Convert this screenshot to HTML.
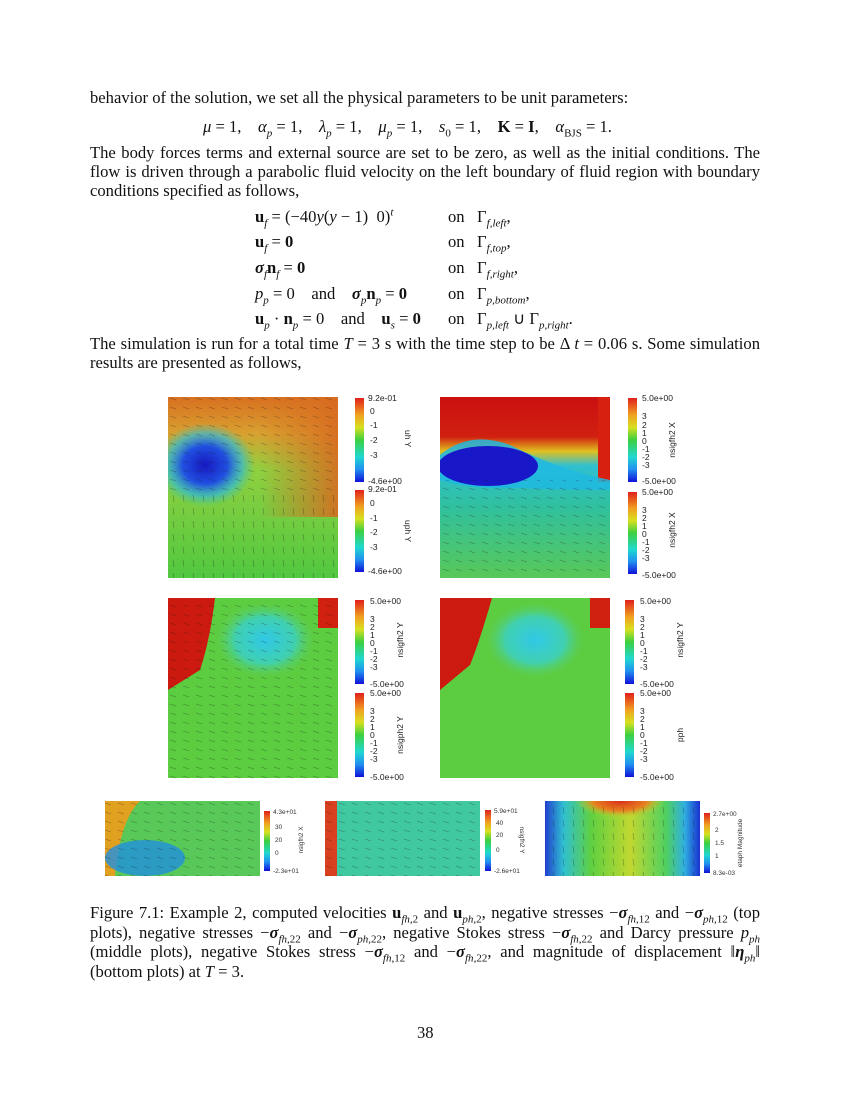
<!DOCTYPE html>
<html><head><meta charset="utf-8">
<style>
body{margin:0;background:#fff;}
.pg{position:relative;width:850px;height:1100px;font-family:"Liberation Serif",serif;font-size:16.6px;color:#111;}
.t{position:absolute;left:90px;width:670px;line-height:19px;text-align:justify;}
.c{line-height:19.5px;}
.l{position:absolute;white-space:nowrap;}
i{font-style:italic}
b{font-weight:bold}
sub,sup{font-size:11px;line-height:0}
svg text{font-family:"Liberation Sans",sans-serif;}
</style></head><body><div class="pg">
<div class="l" style="left:90px;top:88px">behavior of the solution, we set all the physical parameters to be unit parameters:</div>
<div class="l" style="left:203px;top:117px"><i>μ</i> = 1, &nbsp;&nbsp; <i>α<sub>p</sub></i> = 1, &nbsp;&nbsp; <i>λ<sub>p</sub></i> = 1, &nbsp;&nbsp; <i>μ<sub>p</sub></i> = 1, &nbsp;&nbsp; <i>s</i><sub>0</sub> = 1, &nbsp;&nbsp; <b>K</b> = <b>I</b>, &nbsp;&nbsp; <i>α</i><sub>BJS</sub> = 1.</div>
<div class="t" style="top:143px">The body forces terms and external source are set to be zero, as well as the initial conditions. The flow is driven through a parabolic fluid velocity on the left boundary of fluid region with boundary conditions specified as follows,</div>
<div class="l" style="left:255px;top:207px"><b>u</b><sub><i>f</i></sub> = (−40<i>y</i>(<i>y</i> − 1) &nbsp;0)<sup><i>t</i></sup></div>
<div class="l" style="left:255px;top:232px"><b>u</b><sub><i>f</i></sub> = <b>0</b></div>
<div class="l" style="left:255px;top:258px"><b><i>σ</i></b><sub><i>f</i></sub><b>n</b><sub><i>f</i></sub> = <b>0</b></div>
<div class="l" style="left:255px;top:284px"><i>p<sub>p</sub></i> = 0 &nbsp;&nbsp; and &nbsp;&nbsp; <b><i>σ</i></b><sub><i>p</i></sub><b>n</b><sub><i>p</i></sub> = <b>0</b></div>
<div class="l" style="left:255px;top:309px"><b>u</b><sub><i>p</i></sub> · <b>n</b><sub><i>p</i></sub> = 0 &nbsp;&nbsp; and &nbsp;&nbsp; <b>u</b><sub><i>s</i></sub> = <b>0</b></div>
<div class="l" style="left:448px;top:207px">on &nbsp;&nbsp;Γ<sub><i>f,left</i></sub>,</div>
<div class="l" style="left:448px;top:232px">on &nbsp;&nbsp;Γ<sub><i>f,top</i></sub>,</div>
<div class="l" style="left:448px;top:258px">on &nbsp;&nbsp;Γ<sub><i>f,right</i></sub>,</div>
<div class="l" style="left:448px;top:284px">on &nbsp;&nbsp;Γ<sub><i>p,bottom</i></sub>,</div>
<div class="l" style="left:448px;top:309px">on &nbsp;&nbsp;Γ<sub><i>p,left</i></sub> ∪ Γ<sub><i>p,right</i></sub>.</div>
<div class="t" style="top:334px">The simulation is run for a total time <i>T</i> = 3 s with the time step to be Δ <i>t</i> = 0.06 s. Some simulation results are presented as follows,</div>

<svg style="position:absolute;left:0;top:0" width="850" height="1100">
<defs>
<linearGradient id="cb" x1="0" y1="0" x2="0" y2="1">
<stop offset="0" stop-color="#e0201c"/><stop offset="0.2" stop-color="#f0a020"/><stop offset="0.35" stop-color="#d8e020"/><stop offset="0.5" stop-color="#3cd040"/><stop offset="0.7" stop-color="#20d8d0"/><stop offset="0.85" stop-color="#2090f0"/><stop offset="1" stop-color="#1010d8"/></linearGradient>
<radialGradient id="blue1"><stop offset="0" stop-color="#1818c0"/><stop offset="0.45" stop-color="#2050e0"/><stop offset="0.75" stop-color="#30b8d8" stop-opacity="0.7"/><stop offset="1" stop-color="#40c8a0" stop-opacity="0"/></radialGradient>
<radialGradient id="cyan1"><stop offset="0" stop-color="#30c8e8"/><stop offset="0.6" stop-color="#40d0b0"/><stop offset="1" stop-color="#60d060" stop-opacity="0"/></radialGradient>
<radialGradient id="red1"><stop offset="0" stop-color="#d82818"/><stop offset="0.6" stop-color="#e88020"/><stop offset="1" stop-color="#c0d830" stop-opacity="0"/></radialGradient>
<linearGradient id="tl" x1="0" y1="0" x2="0" y2="1"><stop offset="0" stop-color="#d87020"/><stop offset="0.2" stop-color="#d8a030"/><stop offset="0.4" stop-color="#90d040"/><stop offset="1" stop-color="#50c840"/></linearGradient>
<linearGradient id="tlr" x1="0" y1="0" x2="1" y2="0"><stop offset="0" stop-color="#d87020" stop-opacity="0"/><stop offset="1" stop-color="#d86a20" stop-opacity="0.9"/></linearGradient>
<linearGradient id="tr" x1="0" y1="0" x2="0" y2="1"><stop offset="0" stop-color="#cc1010"/><stop offset="0.22" stop-color="#d02010"/><stop offset="0.3" stop-color="#e0c020"/><stop offset="0.38" stop-color="#30c0d0"/><stop offset="0.6" stop-color="#30c0a0"/><stop offset="1" stop-color="#58c858"/></linearGradient>
<linearGradient id="b3" x1="0" y1="0" x2="1" y2="0"><stop offset="0" stop-color="#2040d0"/><stop offset="0.12" stop-color="#30c0d0"/><stop offset="0.3" stop-color="#60d040"/><stop offset="0.55" stop-color="#c0d830"/><stop offset="0.78" stop-color="#50d060"/><stop offset="0.9" stop-color="#30b0e0"/><stop offset="1" stop-color="#1830d0"/></linearGradient>
<pattern id="arr" width="13" height="9" patternUnits="userSpaceOnUse"><line x1="1" y1="2" x2="7" y2="4" stroke="#111" stroke-width="0.6" opacity="0.4"/></pattern>
<pattern id="arrv" width="10" height="13" patternUnits="userSpaceOnUse"><line x1="3" y1="1" x2="4" y2="8" stroke="#111" stroke-width="0.6" opacity="0.4"/></pattern>
<clipPath id="c1"><rect x="168" y="397" width="170" height="181"/></clipPath>
<clipPath id="c2"><rect x="440" y="397" width="170" height="181"/></clipPath>
<clipPath id="c3"><rect x="168" y="598" width="170" height="180"/></clipPath>
<clipPath id="c4"><rect x="440" y="598" width="170" height="180"/></clipPath>
<clipPath id="c5"><rect x="105" y="801" width="155" height="75"/></clipPath>
<clipPath id="c6"><rect x="325" y="801" width="155" height="75"/></clipPath>
<clipPath id="c7"><rect x="545" y="801" width="155" height="75"/></clipPath>
</defs>
<g clip-path="url(#c1)">
<rect x="168" y="397" width="170" height="181" fill="url(#tl)"/>
<rect x="260" y="397" width="78" height="120" fill="url(#tlr)"/>
<ellipse cx="205" cy="465" rx="50" ry="42" fill="url(#blue1)"/>
<rect x="168" y="397" width="170" height="100" fill="url(#arr)"/>
<rect x="168" y="490" width="170" height="88" fill="url(#arrv)"/>
</g>
<g clip-path="url(#c2)">
<rect x="440" y="397" width="170" height="181" fill="url(#tr)"/>
<rect x="598" y="397" width="12" height="85" fill="#d82010"/>
<path d="M440 455 Q470 430 510 445 Q560 470 610 480 L610 490 Q560 490 520 488 Q470 490 440 480Z" fill="#20b8e0" opacity="0.85"/>
<ellipse cx="488" cy="466" rx="50" ry="20" fill="#1818c8"/>
<rect x="440" y="480" width="170" height="98" fill="url(#arr)"/>
</g>
<g clip-path="url(#c3)">
<rect x="168" y="598" width="170" height="180" fill="#5ccc40"/>
<path d="M168 598 L215 598 Q210 640 200 670 L168 690Z" fill="#cc1a10"/>
<ellipse cx="265" cy="640" rx="50" ry="38" fill="url(#cyan1)"/>
<rect x="318" y="598" width="20" height="30" fill="#d02010"/>
<rect x="168" y="598" width="170" height="180" fill="url(#arr)"/>
</g>
<g clip-path="url(#c4)">
<rect x="440" y="598" width="170" height="180" fill="#5ccc40"/>
<path d="M440 598 L492 598 Q480 640 470 665 L440 690Z" fill="#cc1a10"/>
<ellipse cx="535" cy="640" rx="50" ry="38" fill="url(#cyan1)"/>
<rect x="590" y="598" width="20" height="30" fill="#d02010"/>
</g>
<g clip-path="url(#c5)">
<rect x="105" y="801" width="155" height="75" fill="#58c858"/>
<path d="M105 801 L140 801 Q120 820 115 876 L105 876Z" fill="#e0a020"/>
<ellipse cx="145" cy="858" rx="40" ry="18" fill="#2090e0" opacity="0.8"/>
<rect x="105" y="801" width="155" height="75" fill="url(#arr)"/>
</g>
<g clip-path="url(#c6)">
<rect x="325" y="801" width="155" height="75" fill="#40c8a0"/>
<rect x="325" y="801" width="12" height="75" fill="#d84020"/>
<rect x="325" y="801" width="155" height="75" fill="url(#arr)"/>
</g>
<g clip-path="url(#c7)">
<rect x="545" y="801" width="155" height="75" fill="url(#b3)"/>
<ellipse cx="620" cy="800" rx="45" ry="18" fill="url(#red1)"/>
<rect x="545" y="801" width="155" height="75" fill="url(#arrv)"/>
</g>
<g font-size="8.5" fill="#222">
<rect x="355" y="398" width="9" height="84" fill="url(#cb)"/>
<text x="368" y="401">9.2e-01</text><text x="370" y="414">0</text><text x="370" y="428">-1</text><text x="370" y="443">-2</text><text x="370" y="458">-3</text><text x="368" y="484">-4.6e+00</text>
<text transform="translate(405,430) rotate(90)">uh Y</text>
<rect x="355" y="490" width="9" height="82" fill="url(#cb)"/>
<text x="368" y="492">9.2e-01</text><text x="370" y="506">0</text><text x="370" y="521">-1</text><text x="370" y="535">-2</text><text x="370" y="550">-3</text><text x="368" y="574">-4.6e+00</text>
<text transform="translate(405,520) rotate(90)">uph Y</text>
<rect x="628" y="398" width="9" height="84" fill="url(#cb)"/>
<text x="642" y="401">5.0e+00</text><text x="642" y="419">3</text><text x="642" y="428">2</text><text x="642" y="436">1</text><text x="642" y="444">0</text><text x="642" y="452">-1</text><text x="642" y="460">-2</text><text x="642" y="468">-3</text><text x="642" y="484">-5.0e+00</text>
<text transform="translate(675,440) rotate(-90)" text-anchor="middle">nsigfh2 X</text>
<rect x="628" y="492" width="9" height="82" fill="url(#cb)"/>
<text x="642" y="495">5.0e+00</text><text x="642" y="513">3</text><text x="642" y="521">2</text><text x="642" y="529">1</text><text x="642" y="537">0</text><text x="642" y="545">-1</text><text x="642" y="553">-2</text><text x="642" y="561">-3</text><text x="642" y="578">-5.0e+00</text>
<text transform="translate(675,530) rotate(-90)" text-anchor="middle">nsigfh2 X</text>
<rect x="355" y="600" width="9" height="84" fill="url(#cb)"/>
<text x="370" y="604">5.0e+00</text><text x="370" y="622">3</text><text x="370" y="630">2</text><text x="370" y="638">1</text><text x="370" y="646">0</text><text x="370" y="654">-1</text><text x="370" y="662">-2</text><text x="370" y="670">-3</text><text x="370" y="687">-5.0e+00</text>
<text transform="translate(403,640) rotate(-90)" text-anchor="middle">nsigfh2 Y</text>
<rect x="355" y="693" width="9" height="84" fill="url(#cb)"/>
<text x="370" y="696">5.0e+00</text><text x="370" y="714">3</text><text x="370" y="722">2</text><text x="370" y="730">1</text><text x="370" y="738">0</text><text x="370" y="746">-1</text><text x="370" y="754">-2</text><text x="370" y="762">-3</text><text x="370" y="780">-5.0e+00</text>
<text transform="translate(403,735) rotate(-90)" text-anchor="middle">nsigph2 Y</text>
<rect x="625" y="600" width="9" height="84" fill="url(#cb)"/>
<text x="640" y="604">5.0e+00</text><text x="640" y="622">3</text><text x="640" y="630">2</text><text x="640" y="638">1</text><text x="640" y="646">0</text><text x="640" y="654">-1</text><text x="640" y="662">-2</text><text x="640" y="670">-3</text><text x="640" y="687">-5.0e+00</text>
<text transform="translate(683,640) rotate(-90)" text-anchor="middle">nsigfh2 Y</text>
<rect x="625" y="693" width="9" height="84" fill="url(#cb)"/>
<text x="640" y="696">5.0e+00</text><text x="640" y="714">3</text><text x="640" y="722">2</text><text x="640" y="730">1</text><text x="640" y="738">0</text><text x="640" y="746">-1</text><text x="640" y="754">-2</text><text x="640" y="762">-3</text><text x="640" y="780">-5.0e+00</text>
<text transform="translate(683,735) rotate(-90)" text-anchor="middle">pph</text>
</g>
<g font-size="6.5" fill="#333">
<rect x="264" y="811" width="6" height="60" fill="url(#cb)"/>
<text x="273" y="814">4.3e+01</text><text x="275" y="829">30</text><text x="275" y="842">20</text><text x="275" y="855">0</text><text x="273" y="873">-2.3e+01</text>
<text transform="translate(303,840) rotate(-90)" text-anchor="middle">nsigfh2 X</text>
<rect x="485" y="810" width="6" height="61" fill="url(#cb)"/>
<text x="494" y="813">5.9e+01</text><text x="496" y="825">40</text><text x="496" y="837">20</text><text x="496" y="852">0</text><text x="494" y="873">-2.6e+01</text>
<text transform="translate(520,840) rotate(90)" text-anchor="middle">nsigfh2 Y</text>
<rect x="704" y="813" width="6" height="60" fill="url(#cb)"/>
<text x="713" y="816">2.7e+00</text><text x="715" y="832">2</text><text x="715" y="845">1.5</text><text x="715" y="858">1</text><text x="713" y="875">8.3e-03</text>
<text transform="translate(742,843) rotate(-90)" text-anchor="middle">etaph Magnitude</text>
</g>
</svg>

<div class="t c" style="top:903px">Figure 7.1: Example 2, computed velocities <b>u</b><sub><i>fh</i>,2</sub> and <b>u</b><sub><i>ph</i>,2</sub>, negative stresses −<b><i>σ</i></b><sub><i>fh</i>,12</sub> and −<b><i>σ</i></b><sub><i>ph</i>,12</sub> (top plots), negative stresses −<b><i>σ</i></b><sub><i>fh</i>,22</sub> and −<b><i>σ</i></b><sub><i>ph</i>,22</sub>, negative Stokes stress −<b><i>σ</i></b><sub><i>fh</i>,22</sub> and Darcy pressure <i>p<sub>ph</sub></i> (middle plots), negative Stokes stress −<b><i>σ</i></b><sub><i>fh</i>,12</sub> and −<b><i>σ</i></b><sub><i>fh</i>,22</sub>, and magnitude of displacement ‖<b><i>η</i></b><sub><i>ph</i></sub>‖ (bottom plots) at <i>T</i> = 3.</div>
<div class="l" style="left:417px;top:1023px">38</div>
</div></body></html>
